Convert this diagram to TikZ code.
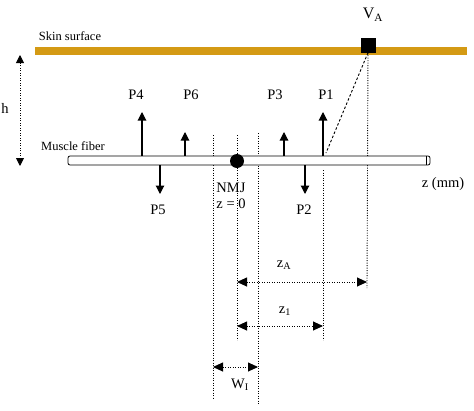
\documentclass[tikz,border=0pt]{standalone}
\usepackage{fontspec}
\setmainfont{Liberation Serif}
\usetikzlibrary{arrows.meta}
\definecolor{skincol}{RGB}{212,154,20}
\begin{document}
\begin{tikzpicture}[x=1pt,y=-1pt,
  lab/.style={font=\fontsize{14.5}{16}\selectfont, inner sep=0pt},
  smalllab/.style={font=\fontsize{12.5}{14}\selectfont, inner sep=0pt},
  skinbar/.style={fill=skincol, draw=none, minimum width=432pt, minimum height=8pt, inner sep=0pt},
  fiberbox/.style={draw=black, line width=0.8pt, fill=white, minimum width=362pt, minimum height=9pt, inner sep=0pt, rounded corners=2pt},
  parrow/.style={line width=1.1pt, -{Triangle[length=8.5pt,width=8.5pt]}},
  dotline/.style={line width=0.9pt, dash pattern=on 0.9pt off 1.6pt},
  dimarrow/.style={line width=0.9pt, dash pattern=on 0.9pt off 1.6pt, {Triangle[length=10pt,width=9pt]}-{Triangle[length=10pt,width=9pt]}},
  harrow/.style={line width=0.9pt, dash pattern=on 0.9pt off 1.6pt, {Triangle[length=8pt,width=8pt]}-{Triangle[length=8pt,width=8pt]}}
]
\useasboundingbox (0,0) rectangle (474,410);

% skin surface
\node[skinbar] (skin) at (251,51) {};
\node[smalllab] (skinlab) at (70,36) {Skin surface};
\node[fill=black, minimum size=15pt, inner sep=0pt] (va) at (368,45) {};
\node[font=\fontsize{16}{18}\selectfont, inner sep=0pt] (valab) at (373,15) {V\textsubscript{A}};

% h
\coordinate (htop) at (20,55);
\coordinate (hbot) at (20,166);
\draw[harrow] (htop) -- (hbot);
\node[lab] (hlab) at (5,108) {h};

% dotted verticals
\draw[dotline] (213,135) -- (213,398);
\draw[dotline] (237,135) -- (237,340);
\draw[dotline] (258,133) -- (258,405);
\draw[dotline] (323,170) -- (323,340);
\draw[dotline] (va.south) -- (367,288);

% fiber
\node[smalllab] (fiberlab) at (73,146) {Muscle fiber};
\node[fiberbox] (fiber) at (249,160.5) {};
\draw[line width=0.8pt] (426,156) -- (426,165);
\node[circle, fill=black, minimum size=14pt, inner sep=0pt] (nmj) at (237,161) {};
\node[lab] (nmjlab) at (231,188) {NMJ};
\node[lab] (z0lab) at (231,204) {z = 0};
\node[lab] (zmm) at (443,184) {z (mm)};

% dashed line from VA to P1
\coordinate (p1foot) at (326,153);
\draw[line width=0.9pt, dash pattern=on 2.5pt off 2pt] (va.south) -- (p1foot);

% P arrows
\coordinate (p4) at (142,112);
\coordinate (p6) at (185,132);
\coordinate (p3) at (284,132);
\coordinate (p1) at (323,112);
\coordinate (p5) at (160,194);
\coordinate (p2) at (305,194);
\draw[parrow] (p4 |- fiber.north) -- (p4);
\draw[parrow] (p6 |- fiber.north) -- (p6);
\draw[parrow] (p3 |- fiber.north) -- (p3);
\draw[parrow] (p1 |- fiber.north) -- (p1);
\draw[parrow] (p5 |- fiber.south) -- (p5);
\draw[parrow] (p2 |- fiber.south) -- (p2);
\node[lab] (p4lab) at (136,95) {P4};
\node[lab] (p6lab) at (191,95) {P6};
\node[lab] (p3lab) at (275,95) {P3};
\node[lab] (p1lab) at (326,95) {P1};
\node[lab] (p5lab) at (158,210) {P5};
\node[lab] (p2lab) at (304,210) {P2};

% dimensions
\coordinate (zal) at (237,282);
\coordinate (zar) at (367,282);
\draw[dimarrow] (zal) -- (zar);
\node[lab] (zalab) at (284,265) {z\textsubscript{A}};
\coordinate (z1l) at (237,326);
\coordinate (z1r) at (323,326);
\draw[dimarrow] (z1l) -- (z1r);
\node[lab] (z1lab) at (285,311) {z\textsubscript{1}};
\coordinate (wl) at (213,367);
\coordinate (wr) at (258,367);
\draw[dimarrow] (wl) -- (wr);
\node[lab] (wlab) at (240,385) {W\textsubscript{I}};
\end{tikzpicture}
\end{document}
